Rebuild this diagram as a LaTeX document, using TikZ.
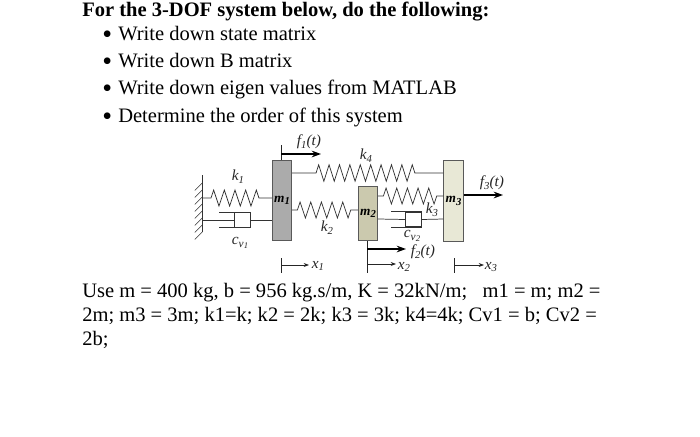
\documentclass[tikz,border=0pt]{standalone}
\usepackage{fontspec}
\setmainfont{Liberation Serif}
\usetikzlibrary{decorations.pathmorphing,arrows.meta,calc}
\newcommand{\sbs}[1]{\raisebox{-0.4ex}{\fontsize{8}{9}\selectfont #1}}
\newcommand{\sbsb}[2]{\raisebox{-0.4ex}{\fontsize{8.5}{9}\selectfont #1\raisebox{-0.35ex}{\fontsize{6.5}{7}\selectfont #2}}}
\tikzset{
 x=0.75pt,y=-0.75pt,
 bodytext/.style={anchor=base west,inner sep=0pt,font=\fontsize{15.4}{18}\selectfont,text=black},
 headtext/.style={bodytext,font=\fontsize{15.4}{18}\selectfont\bfseries},
 bullettext/.style={anchor=base west,inner sep=0pt,font=\fontsize{21}{22}\selectfont,text=black},
 lab/.style={inner sep=0pt,font=\fontsize{11.5}{13}\selectfont\itshape,text=black!85},
 mass/.style={draw=black!65,line width=0.6pt,inner sep=0pt,minimum width=14.5pt,font=\fontsize{10}{11}\selectfont\bfseries\itshape},
 conn/.style={line width=0.55pt,black!80},
 spring/.style={conn,decorate,decoration={zigzag,segment length=8pt,amplitude=6pt,pre length=#1,post length=#1}},
 spring/.default=5pt,
 force/.style={line width=1.1pt,black,-{Stealth[length=7pt,width=5pt]}},
 disp/.style={line width=0.6pt,black!85,-{Stealth[length=4pt,width=3pt]}},
 tick/.style={line width=0.6pt,black!85},
 dashpot/.style={draw=black!80,fill=white,line width=0.55pt,inner sep=0pt,minimum width=11.5pt,minimum height=11pt},
}
\begin{document}
\begin{tikzpicture}
\useasboundingbox (0,0) rectangle (700,436);
\fill[white] (0,0) rectangle (700,436);
% text
\node[headtext] (t0) at (82,16) {For the 3-DOF system below, do the following:};
\foreach \yy/\tt/\nm in {40/Write down state matrix/a,67/Write down B matrix/b,94/Write down eigen values from MATLAB/c,122/Determine the order of this system/d}{
  \node[bullettext] (b\nm) at (102,\yy+3) {•};
  \node[bodytext] (t\nm) at (118,\yy) {\tt};
}
\node[bodytext] (u1) at (82,297) {Use m = 400 kg, b = 956 kg.s/m, K = 32kN/m;\ \ \ m1 = m; m2 =};
\node[bodytext] (u2) at (82,321) {2m; m3 = 3m; k1=k; k2 = 2k; k3 = 3k; k4=4k; Cv1 = b; Cv2 =};
\node[bodytext] (u3) at (82,345) {2b;};
% masses
\node[mass,fill=black!33,minimum height=60.5pt] (m1) at (282,200.3) {m\sbs{1}};
\node[mass,fill={rgb,255:red,203;green,201;blue,174},minimum height=41pt] (m2) at (368,213.3) {m\sbs{2}};
\node[mass,fill={rgb,255:red,232;green,232;blue,214},minimum height=60.5pt] (m3) at (453.5,201) {m\sbs{3}};
% wall
\node[inner sep=0pt,minimum width=0pt,minimum height=42pt] (wall) at (202.7,203.7) {};
\draw[conn] (wall.north) -- (wall.south);
\foreach \h in {0,...,7}{
  \draw[conn,line width=0.4pt] ($(wall.north)+(0,\h*7+7)$) -- ++(-8,8);
}
% level guides
\coordinate (yk1) at (0,198);
\coordinate (yc1) at (0,220);
\coordinate (yk4) at (0,173);
\coordinate (yk2) at (0,210);
\coordinate (yk3) at (0,196);
\coordinate (yc2) at (0,219);
% springs
\draw[spring=6pt] (wall.east |- yk1) -- (m1.west |- yk1);
\draw[conn,decorate,decoration={zigzag,segment length=7.8pt,amplitude=6.2pt,pre length=18pt,post length=21pt}] (m1.east |- yk4) -- (m3.west |- yk4);
\draw[spring=4pt] (m1.east |- yk2) -- (m2.west |- yk2);
\draw[spring=4pt] (m2.east |- yk3) -- (m3.west |- yk3);
% dampers
\node[dashpot] (d1) at (242.5,220) {};
\draw[conn] (wall.east |- yc1) -- (d1.west);
\draw[conn] (d1.east) -- (m1.west |- yc1);
\draw[conn] (d1.north east) -- ++(-31.5,0);
\draw[conn] (d1.south east) -- ++(-31.5,0);
\node[dashpot] (d2) at (413.5,219.5) {};
\draw[conn] (m2.east |- yc2) -- (d2.west);
\draw[conn] (d2.east) -- (m3.west |- yc2);
\draw[conn] (d2.north east) -- ++(-31,0);
\draw[conn] (d2.south east) -- ++(-31,0);
% forces
\coordinate (f1top) at (281,145);
\coordinate (f1a) at (281,154);
\coordinate (f1b) at (321,154);
\draw[tick] (f1top) -- (m1.north -| f1top);
\draw[force] (f1a) -- (f1b);
\coordinate (f2bot) at (367,273);
\coordinate (f2a) at (367,249);
\coordinate (f2b) at (406,249);
\coordinate (x2b) at (396,264);
\coordinate (x2a) at (367,264);
\draw[tick] (m2.south -| f2bot) -- (f2bot);
\draw[force] (f2a) -- (f2b);
\draw[disp] (x2a) -- (x2b);
\coordinate (f3b) at (503,195);
\draw[force] (m3.east |- f3b) -- (f3b);
% displacement arrows
\coordinate (x1t) at (281,258);
\coordinate (x1l) at (281,273);
\coordinate (x1a) at (281,265);
\coordinate (x1b) at (309,265);
\draw[tick] (x1t) -- (x1l);
\draw[disp] (x1a) -- (x1b);
\coordinate (x3t) at (454,258);
\coordinate (x3l) at (454,273);
\coordinate (x3a) at (454,265);
\coordinate (x3b) at (484,265);
\draw[tick] (x3t) -- (x3l);
\draw[disp] (x3a) -- (x3b);
% labels
\node[lab] (lf1) at (309,142) {f\sbs{1}(t)};
\node[lab] (lf2) at (423,252) {f\sbs{2}(t)};
\node[lab] (lf3) at (492,183) {f\sbs{3}(t)};
\node[lab] (lk1) at (238,177) {k\sbs{1}};
\node[lab] (lk2) at (327,228) {k\sbs{2}};
\node[lab] (lk3) at (432,210) {k\sbs{3}};
\node[lab] (lk4) at (366,156) {k\sbs{4}};
\node[lab] (lc1) at (240,243) {c\sbsb{v}{1}};
\node[lab] (lc2) at (412,236) {c\sbsb{v}{2}};
\node[lab] (lx1) at (318,266) {x\sbs{1}};
\node[lab] (lx2) at (404,267) {x\sbs{2}};
\node[lab] (lx3) at (491,267) {x\sbs{3}};
\end{tikzpicture}
\end{document}
